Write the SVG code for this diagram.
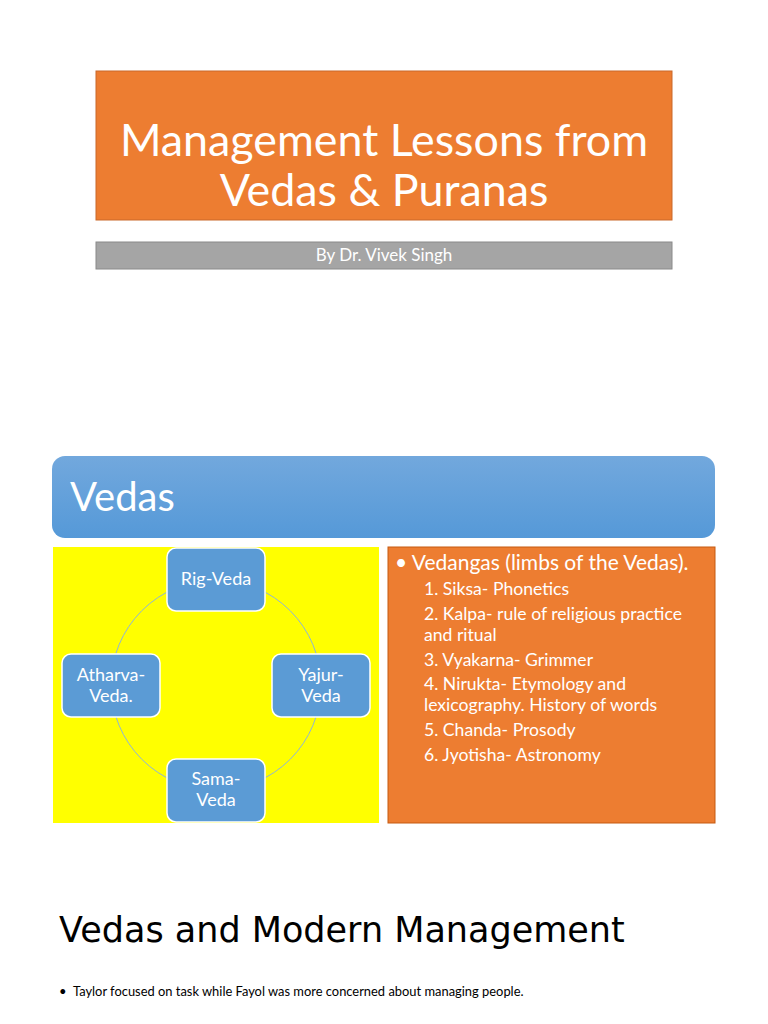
<svg xmlns="http://www.w3.org/2000/svg" width="768" height="1024" viewBox="0 0 768 1024">
<style>
.w{fill:#fff;font-family:Lato,"Noto Sans",sans-serif}
.node rect{fill:#5B9BD5;stroke:#fff;stroke-width:1.5}
.node text{fill:#fff;font-family:Lato,"Noto Sans",sans-serif;font-size:18px;text-anchor:middle}
.li{font-size:17.6px}
</style>
<defs>
<linearGradient id="hg" x1="0" y1="0" x2="0" y2="1">
<stop offset="0" stop-color="#72A8DD"/>
<stop offset="1" stop-color="#5599D8"/>
</linearGradient>
</defs>
<rect width="768" height="1024" fill="#fff"/>
<g id="title">
<rect x="96" y="71" width="576" height="149" fill="#ED7D31" stroke="#C9682A" stroke-width="1"/>
<text class="w" x="384" y="156" font-size="44.8" text-anchor="middle">Management Lessons from</text>
<text class="w" x="384" y="206" font-size="44.8" text-anchor="middle">Vedas &amp; Puranas</text>
</g>
<g id="subtitle">
<rect x="96" y="242" width="576" height="27" fill="#A5A5A5" stroke="#8a8a8a" stroke-width="1"/>
<text class="w" x="384" y="261" font-size="17" text-anchor="middle">By Dr. Vivek Singh</text>
</g>
<g id="vedas-header">
<rect x="52" y="456" width="663" height="82" rx="13" fill="url(#hg)"/>
<text class="w" x="70" y="511" font-size="40">Vedas</text>
</g>
<g id="cycle-panel">
<rect x="53" y="547" width="326" height="276" fill="#FFFF00"/>
</g>
<g id="connectors">
<circle cx="216" cy="685" r="105" fill="none" stroke="#8FB5D6" stroke-width="1"/>
</g>
<g id="rig" class="node"><rect x="167" y="548" width="98" height="63" rx="9"/><text x="216" y="585">Rig-Veda</text></g>
<g id="yajur" class="node"><rect x="272" y="654" width="98" height="63" rx="9"/><text x="321" y="681">Yajur-</text><text x="321" y="702">Veda</text></g>
<g id="sama" class="node"><rect x="167" y="759" width="98" height="63" rx="9"/><text x="216" y="785">Sama-</text><text x="216" y="806">Veda</text></g>
<g id="atharva" class="node"><rect x="62" y="654" width="98" height="63" rx="9"/><text x="111" y="681">Atharva-</text><text x="111" y="702">Veda.</text></g>
<g id="vedangas">
<rect x="388" y="547" width="327" height="276" fill="#ED7D31" stroke="#C55A11" stroke-width="1"/>
<text class="w" x="395" y="570" font-size="21">• Vedangas (limbs of the Vedas).</text>
<text class="w li" x="424" y="595">1. Siksa- Phonetics</text>
<text class="w li" x="424" y="620">2. Kalpa- rule of religious practice</text>
<text class="w li" x="424" y="641">and ritual</text>
<text class="w li" x="424" y="666">3. Vyakarna- Grimmer</text>
<text class="w li" x="424" y="690">4. Nirukta- Etymology and</text>
<text class="w li" x="424" y="711">lexicography. History of words</text>
<text class="w li" x="424" y="736">5. Chanda- Prosody</text>
<text class="w li" x="424" y="761">6. Jyotisha- Astronomy</text>
</g>
<g id="modern">
<text x="59" y="942" font-family="'DejaVu Sans',sans-serif" font-size="35" fill="#000">Vedas and Modern Management</text>
<text x="59" y="996" font-family="Lato,'Noto Sans',sans-serif" font-size="13" fill="#000">•</text>
<text x="73" y="996" font-family="Lato,'Noto Sans',sans-serif" font-size="12.9" fill="#000">Taylor focused on task while Fayol was more concerned about managing people.</text>
</g>
</svg>
